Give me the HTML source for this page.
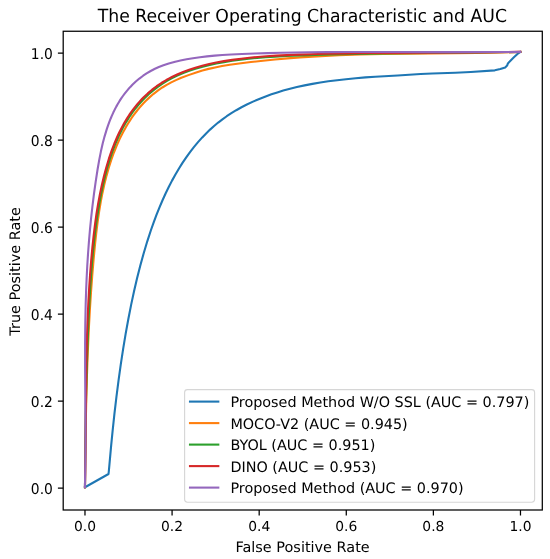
<!DOCTYPE html>
<html><head><meta charset="utf-8"><title>ROC and AUC</title>
<style>html,body{margin:0;padding:0;background:#fff;width:550px;height:559px;overflow:hidden}svg{display:block}text{text-rendering:geometricPrecision}</style>
</head><body>
<svg width="550" height="559" viewBox="0 0 550 559"><rect width="550" height="559" fill="#fff"/><defs><clipPath id="c"><rect x="63.2" y="31.25" width="479.09999999999997" height="478.75"/></clipPath></defs><g clip-path="url(#c)" fill="none" stroke-width="2.1" stroke-linecap="square" stroke-linejoin="round"><path d="M85.00,487.20 L108.51,473.99 L108.91,470.30 L111.17,445.47 L112.64,430.63 L114.45,413.73 L116.43,396.88 L118.55,380.35 L120.78,364.41 L123.15,348.92 L125.72,333.43 L128.49,318.20 L131.22,304.39 L134.04,291.28 L137.12,278.05 L140.25,265.73 L143.63,253.46 L147.28,241.30 L150.90,230.24 L153.78,222.09 L156.46,214.95 L159.61,207.08 L162.53,200.22 L165.58,193.52 L168.74,186.98 L172.03,180.62 L175.44,174.44 L178.98,168.44 L182.64,162.65 L186.42,157.06 L189.84,152.34 L193.86,147.14 L198.01,142.16 L202.28,137.40 L206.12,133.41 L210.06,129.61 L214.09,125.99 L218.21,122.56 L222.43,119.31 L226.73,116.24 L231.76,112.93 L236.26,110.21 L241.50,107.28 L246.84,104.54 L252.99,101.66 L259.25,98.97 L265.64,96.44 L271.42,94.34 L277.29,92.40 L283.23,90.60 L290.02,88.75 L296.89,87.07 L304.62,85.38 L312.44,83.87 L320.34,82.52 L328.31,81.33 L337.14,80.17 L346.01,79.17 L355.73,78.22 L365.46,77.41 L375.19,76.73 L397.74,75.46 L420.63,74.05 L432.19,73.50 L455.33,72.74 L470.72,71.94 L494.81,70.34 L500.31,69.04 L505.21,67.44 L507.11,65.55 L507.91,63.45 L509.50,61.65 L513.90,57.35 L518.30,53.25 L520.30,51.95" stroke="#1f77b4"/><path d="M85.01,487.20 L85.16,465.75 L85.43,443.30 L85.80,421.13 L86.27,399.62 L86.82,379.69 L87.45,360.87 L88.19,342.68 L89.00,325.65 L89.93,308.80 L91.01,292.14 L92.19,276.19 L93.51,260.47 L94.97,244.99 L96.30,232.63 L97.71,221.27 L99.21,210.99 L100.75,201.83 L102.52,192.67 L104.41,184.11 L106.55,175.59 L108.78,167.70 L111.26,159.90 L113.81,152.76 L116.62,145.74 L119.69,138.87 L122.78,132.68 L126.12,126.66 L127.89,123.71 L129.72,120.82 L131.62,117.98 L133.59,115.20 L137.37,110.25 L139.54,107.63 L141.40,105.51 L143.69,103.02 L145.66,101.00 L149.75,97.12 L153.61,93.82 L158.09,90.37 L162.31,87.48 L166.69,84.80 L171.24,82.34 L175.95,80.10 L181.32,77.83 L188.44,75.13 L196.20,72.45 L202.38,70.54 L208.66,68.87 L215.04,67.42 L222.09,66.07 L229.76,64.83 L239.20,63.51 L250.89,62.05 L263.00,60.69 L274.95,59.49 L287.29,58.40 L300.01,57.42 L312.53,56.59 L325.40,55.87 L339.12,55.23 L360.29,54.49 L382.94,53.96 L406.96,53.61 L455.23,53.16 L476.46,52.90 L499.33,52.47 L520.30,51.88" stroke="#ff7f0e"/><path d="M84.99,487.20 L85.14,463.92 L85.41,439.16 L85.77,415.06 L86.20,392.49 L86.69,371.91 L87.27,352.40 L87.90,334.48 L88.64,317.21 L89.47,300.62 L90.33,285.82 L91.26,272.37 L92.27,259.81 L93.41,247.64 L94.68,235.89 L96.03,225.15 L97.58,214.34 L99.26,204.03 L101.16,193.68 L103.08,184.47 L105.25,175.29 L107.54,166.74 L109.93,158.83 L112.39,151.59 L115.11,144.46 L118.10,137.48 L119.83,133.79 L121.38,130.68 L122.99,127.60 L124.68,124.57 L126.43,121.59 L128.25,118.66 L130.13,115.79 L132.09,112.97 L135.86,107.97 L138.02,105.32 L140.25,102.75 L142.56,100.24 L144.53,98.21 L148.63,94.30 L152.94,90.60 L157.43,87.13 L162.13,83.89 L167.01,80.90 L172.07,78.14 L177.29,75.61 L183.20,73.08 L189.25,70.80 L195.43,68.76 L201.72,66.94 L208.66,65.19 L216.27,63.53 L223.93,62.10 L232.21,60.78 L240.50,59.66 L248.78,58.72 L257.03,57.94 L265.82,57.25 L275.12,56.65 L286.03,56.07 L300.15,55.46 L315.07,54.92 L330.20,54.46 L355.40,53.87 L383.76,53.41 L475.50,52.48 L520.30,51.94" stroke="#2ca02c"/><path d="M84.95,487.20 L85.25,470.78 L85.50,452.96 L86.03,390.54 L86.35,365.46 L86.92,339.22 L87.30,327.08 L87.75,315.29 L88.44,300.71 L89.23,286.95 L90.15,273.50 L91.19,260.40 L92.42,247.09 L93.67,235.29 L94.98,224.51 L96.43,214.22 L98.10,203.89 L99.92,194.12 L101.86,184.92 L104.05,175.75 L106.34,167.19 L108.90,158.71 L111.55,150.90 L114.28,143.76 L117.26,136.75 L118.99,133.05 L120.53,129.92 L123.82,123.79 L125.56,120.79 L127.37,117.84 L129.25,114.95 L131.20,112.12 L133.23,109.34 L134.97,107.08 L137.13,104.43 L139.36,101.84 L141.67,99.33 L143.65,97.30 L147.77,93.39 L152.10,89.70 L156.63,86.24 L161.36,83.02 L166.27,80.04 L168.80,78.64 L171.88,77.03 L177.13,74.53 L183.07,72.03 L189.15,69.77 L195.35,67.74 L202.22,65.78 L209.20,64.06 L216.24,62.56 L223.93,61.15 L232.24,59.86 L241.15,58.69 L249.44,57.77 L257.69,56.99 L266.47,56.29 L276.34,55.64 L286.68,55.10 L298.01,54.63 L311.37,54.18 L325.55,53.79 L346.82,53.36 L370.54,53.06 L394.03,52.89 L467.66,52.51 L493.83,52.27 L520.30,51.92" stroke="#d62728"/><path d="M84.93,487.20 L85.33,464.85 L85.48,441.01 L85.43,418.74 L85.11,368.06 L85.10,344.18 L85.29,323.74 L85.68,304.37 L86.10,291.00 L86.62,278.51 L87.27,265.82 L88.05,253.49 L88.94,241.56 L89.99,229.45 L91.15,217.77 L92.40,206.53 L93.97,193.94 L95.66,181.80 L97.56,169.51 L99.28,159.62 L100.87,151.58 L102.69,143.60 L104.60,136.32 L106.78,129.16 L107.98,125.63 L109.25,122.15 L110.60,118.72 L111.79,115.90 L113.29,112.57 L114.62,109.84 L116.29,106.63 L117.76,104.01 L119.60,100.94 L121.22,98.44 L122.91,96.00 L124.66,93.63 L126.49,91.32 L128.38,89.07 L130.35,86.90 L132.39,84.79 L135.79,81.57 L139.38,78.55 L143.14,75.72 L146.58,73.42 L150.68,71.00 L154.95,68.80 L158.84,67.07 L163.44,65.31 L168.77,63.58 L174.23,62.06 L180.39,60.57 L186.64,59.29 L192.95,58.19 L199.95,57.18 L206.99,56.34 L214.68,55.61 L222.36,55.03 L231.26,54.50 L241.96,54.00 L254.93,53.50 L267.64,53.08 L280.67,52.74 L308.75,52.25 L328.06,52.08 L348.92,52.00 L449.48,52.14 L520.30,51.91" stroke="#9467bd"/></g><rect x="63.2" y="31.25" width="479.10" height="478.75" fill="none" stroke="#000" stroke-width="1.25" stroke-linejoin="miter"/><path d="M84.98,510.00 V515.50 M63.20,488.24 H57.90 M172.08,510.00 V515.50 M63.20,401.20 H57.90 M259.18,510.00 V515.50 M63.20,314.16 H57.90 M346.28,510.00 V515.50 M63.20,227.12 H57.90 M433.38,510.00 V515.50 M63.20,140.08 H57.90 M520.48,510.00 V515.50 M63.20,53.04 H57.90" stroke="#000" stroke-width="1.25" fill="none"/><g font-family="'DejaVu Sans', 'Liberation Sans', sans-serif" font-size="14.45" fill="#000"><text transform="translate(84.98,531.0) scale(0.96,0.95)" text-anchor="middle">0.0</text><text transform="translate(52.9,494.04) scale(0.96,1.03)" text-anchor="end">0.0</text><text transform="translate(172.08,531.0) scale(0.96,0.95)" text-anchor="middle">0.2</text><text transform="translate(52.9,407.00) scale(0.96,1.03)" text-anchor="end">0.2</text><text transform="translate(259.18,531.0) scale(0.96,0.95)" text-anchor="middle">0.4</text><text transform="translate(52.9,319.96) scale(0.96,1.03)" text-anchor="end">0.4</text><text transform="translate(346.28,531.0) scale(0.96,0.95)" text-anchor="middle">0.6</text><text transform="translate(52.9,232.92) scale(0.96,1.03)" text-anchor="end">0.6</text><text transform="translate(433.38,531.0) scale(0.96,0.95)" text-anchor="middle">0.8</text><text transform="translate(52.9,145.88) scale(0.96,1.03)" text-anchor="end">0.8</text><text transform="translate(520.48,531.0) scale(0.96,0.95)" text-anchor="middle">1.0</text><text transform="translate(52.9,58.84) scale(0.96,1.03)" text-anchor="end">1.0</text><text x="302.6" y="551.8" text-anchor="middle">False Positive Rate</text><text transform="translate(19.7,271.4) rotate(-90)" text-anchor="middle">True Positive Rate</text></g><text transform="translate(302.3,21.9) scale(1,1.045)" text-anchor="middle" font-family="'DejaVu Sans', 'Liberation Sans', sans-serif" font-size="17.25" fill="#000">The Receiver Operating Characteristic and AUC</text><rect x="184.6" y="389.6" width="350.0" height="112.6" rx="2.9" ry="2.9" fill="#fff" fill-opacity="0.8" stroke="#cccccc" stroke-opacity="0.8" stroke-width="1.1"/><g font-family="'DejaVu Sans', 'Liberation Sans', sans-serif" font-size="14.38" fill="#000"><path d="M190.0,401.60 H218.3" stroke="#1f77b4" stroke-width="2.1" stroke-linecap="square" fill="none"/><text x="230.4" y="407.30">Proposed Method W/O SSL (AUC = 0.797)</text><path d="M190.0,423.10 H218.3" stroke="#ff7f0e" stroke-width="2.1" stroke-linecap="square" fill="none"/><text x="230.4" y="428.80">MOCO-V2 (AUC = 0.945)</text><path d="M190.0,444.60 H218.3" stroke="#2ca02c" stroke-width="2.1" stroke-linecap="square" fill="none"/><text x="230.4" y="450.30">BYOL (AUC = 0.951)</text><path d="M190.0,466.10 H218.3" stroke="#d62728" stroke-width="2.1" stroke-linecap="square" fill="none"/><text x="230.4" y="471.80">DINO (AUC = 0.953)</text><path d="M190.0,487.60 H218.3" stroke="#9467bd" stroke-width="2.1" stroke-linecap="square" fill="none"/><text x="230.4" y="493.30">Proposed Method (AUC = 0.970)</text></g></svg>
</body></html>
